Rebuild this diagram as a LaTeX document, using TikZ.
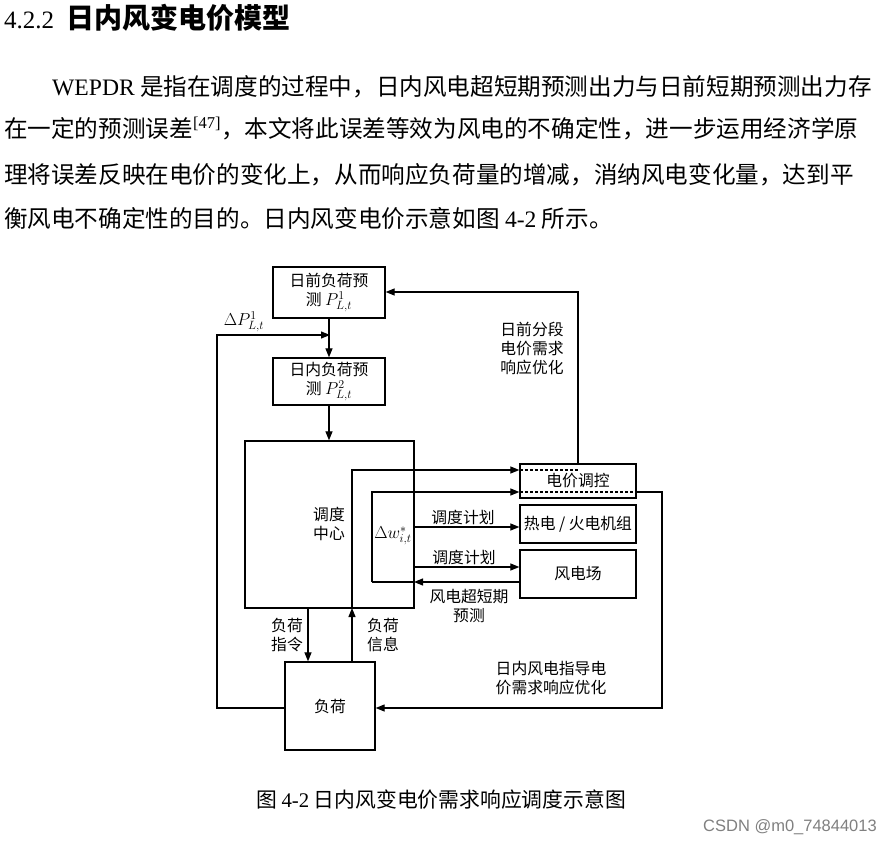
\documentclass[tikz,border=0pt]{standalone}
\usepackage{fontspec}
\setmainfont{Noto Sans CJK SC}
\newfontfamily\lat{Liberation Serif}
\newfontfamily\wm{Liberation Sans}
\usetikzlibrary{arrows.meta}
\begin{document}
\begin{tikzpicture}[x=1pt,y=-1pt,
  box/.style={draw,line width=1.3pt,inner sep=0pt},
  ln/.style={line width=1.2pt},
  ar/.style={ln,-{Triangle[length=9pt,width=7pt]}},
  lab/.style={font=\fontsize{15.8}{19}\selectfont,align=center,inner sep=0pt},
  mth/.style={font=\fontsize{18}{20}\selectfont,inner sep=0pt},
  body/.style={anchor=west,font=\fontsize{23.6}{26}\selectfont,inner sep=0pt}]
\path[use as bounding box,fill=white] (0,0) rectangle (891,845);
% text
\node[anchor=west,inner sep=0pt,font=\fontsize{28}{30}\selectfont] (h) at (4,18) {{\lat\fontsize{25}{28}\selectfont 4.2.2}\ \ \textbf{日内风变电价模型}};
\node[body] (l1) at (52,87) {{\lat WEPDR} 是指在调度的过程中，日内风电超短期预测出力与日前短期预测出力存};
\node[body] (l2) at (4,129) {在一定的预测误差\textsuperscript{\lat [47]}，本文将此误差等效为风电的不确定性，进一步运用经济学原};
\node[body] (l3) at (4,175) {理将误差反映在电价的变化上，从而响应负荷量的增减，消纳风电变化量，达到平};
\node[body] (l4) at (4,219) {衡风电不确定性的目的。日内风变电价示意如图 {\lat 4-2} 所示。};
\node[inner sep=0pt,font=\fontsize{20.8}{23}\selectfont] (cap) at (441,800) {图 {\lat 4-2} 日内风变电价需求响应调度示意图};
\node[anchor=east,inner sep=0pt,font=\wm\fontsize{16.5}{18}\selectfont,text=gray] (wm) at (877,827) {CSDN @m0\_74844013};
% boxes
\node[box,minimum width=112pt,minimum height=51pt,lab] (b1) at (329,292.5) {日前负荷预\\测 {\fontsize{18}{19}\selectfont$P^1_{L,t}$}};
\node[box,minimum width=112pt,minimum height=47pt,lab] (b2) at (329,381.5) {日内负荷预\\测 {\fontsize{18}{19}\selectfont$P^2_{L,t}$}};
\node[box,minimum width=169pt,minimum height=167pt] (dc) at (329.5,524.5) {};
\node[lab] (dct) at (329,524) {调度\\中心};
\node[box,minimum width=116pt,minimum height=34pt,lab] (pc) at (578,481) {电价调控};
\node[box,minimum width=116pt,minimum height=38pt,lab] (tp) at (578,524) {热电 / 火电机组};
\node[box,minimum width=116pt,minimum height=48pt,lab] (wf) at (578,574) {风电场};
\node[box,minimum width=90pt,minimum height=88pt,lab] (ld) at (330,706) {负荷};
% dashed
\coordinate (d1) at (520,470);
\coordinate (d2) at (578,470);
\coordinate (d3) at (520,492);
\coordinate (d4) at (636,492);
\draw[ln,dash pattern=on 3pt off 2pt] (d1) -- (d2);
\draw[ln,dash pattern=on 3pt off 2pt] (d3) -- (d4);
% connectors
\draw[ar] (b1.south) -- (b2.north);
\draw[ar] (b2.south) -- (dc.north -| b2.south);
\coordinate (tp1) at (578,464);
\draw[ar] (tp1) |- (b1.east |- 0,292);
\coordinate (dpa) at (330,335);
\draw[ar] (ld.west |- 0,708) -| (217,335) -- (dpa);
\coordinate (rg) at (636,492);
\draw[ar] (rg) -| (662,708) -- (ld.east |- 0,708);
\coordinate (i1) at (352,662);
\coordinate (i1t) at (352,608);
\draw[ar] (i1) -- (i1t);
\draw[ar] (i1t) |- (pc.west |- 0,470);
\coordinate (i2) at (372,582);
\draw[ar] (i2) |- (pc.west |- 0,492);
\coordinate (ldi) at (308,608);
\draw[ar] (ldi) -- (ld.north -| ldi);
\coordinate (s1) at (414,527);
\coordinate (s2) at (414,567);
\draw[ar] (s1) -- (tp.west |- s1);
\draw[ar] (s2) -- (wf.west |- s2);
\draw[ar] (wf.west |- 0,582) -- (414,582);
\draw[ln] (414,582) -- (i2);
% labels
\node[mth] (lp) at (244,322) {$\Delta P^1_{L,t}$};
\node[lab] (la) at (532,349) {日前分段\\电价需求\\响应优化};
\node[mth] (lw) at (393,536) {$\Delta w^*_{i,t}$};
\node[lab] (lj1) at (463,517) {调度计划};
\node[lab] (lj2) at (464,557) {调度计划};
\node[lab] (lf) at (469,606) {风电超短期\\预测};
\node[lab] (lz) at (287,635) {负荷\\指令};
\node[lab] (lx) at (383,635) {负荷\\信息};
\node[lab] (lr) at (551,678) {日内风电指导电\\价需求响应优化};
\end{tikzpicture}
\end{document}
